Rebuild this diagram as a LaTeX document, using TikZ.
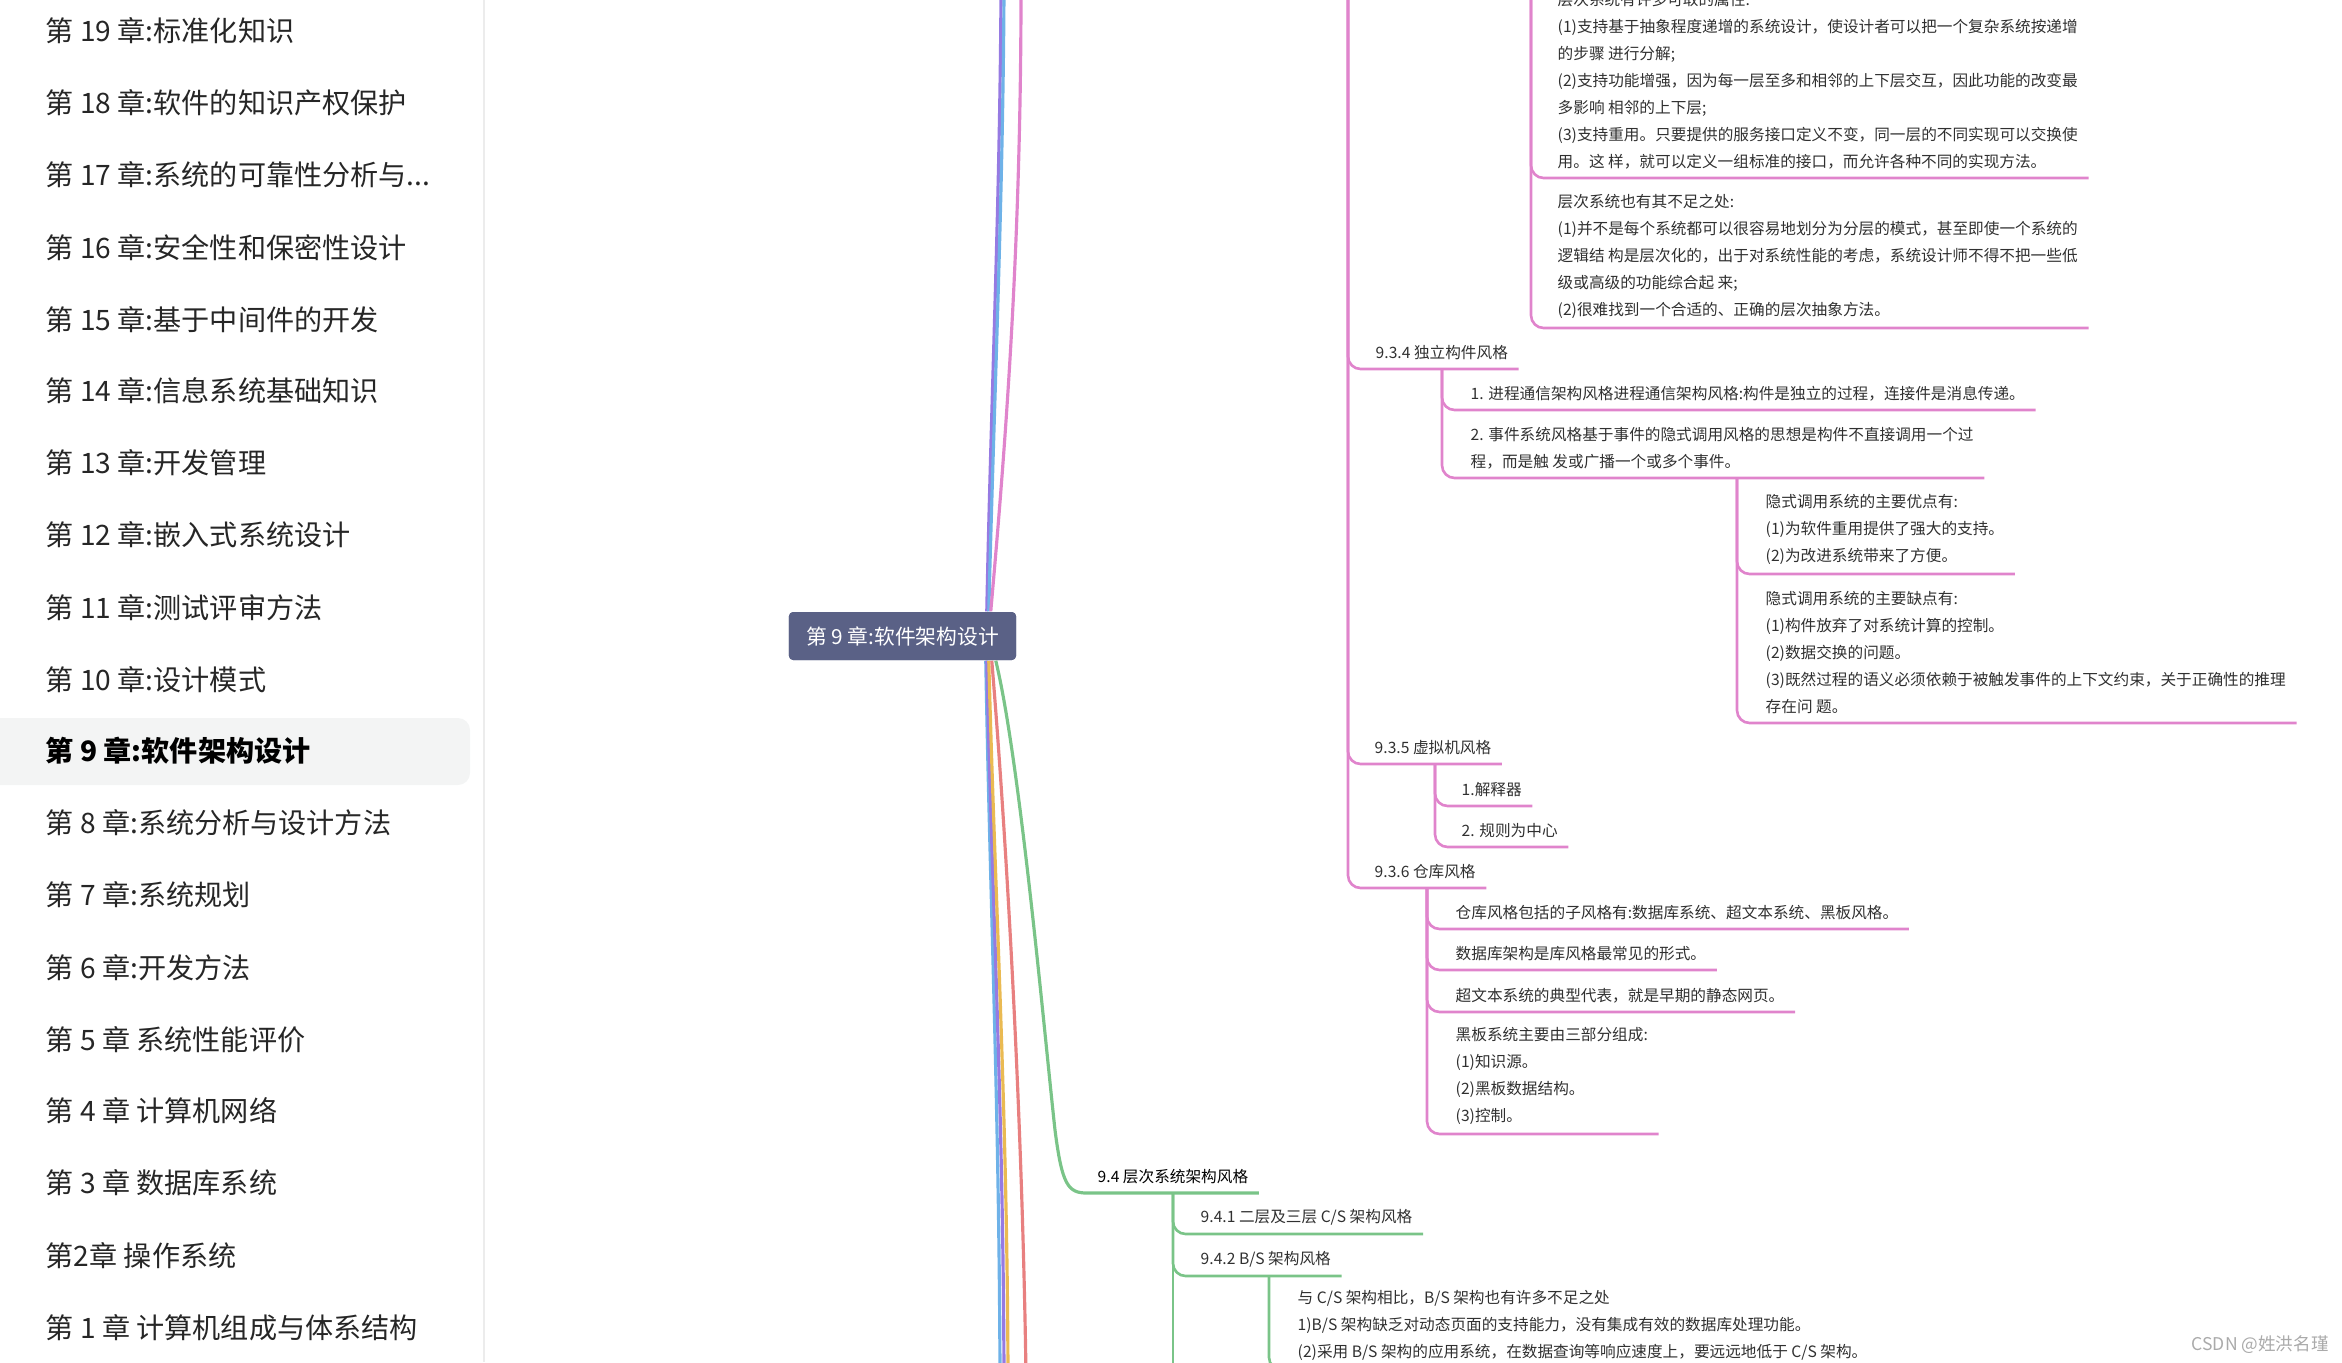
\documentclass[tikz,border=0pt]{standalone}
\usepackage{fontspec}
\setmainfont{Noto Sans CJK SC}
\usepackage{xcolor}
\usepackage{tikz}
\usetikzlibrary{positioning, calc}

\definecolor{mmpink}{RGB}{224,132,204}
\definecolor{mmblue}{RGB}{110,178,232}
\definecolor{mmpurple}{RGB}{150,122,226}
\definecolor{mmgreen}{RGB}{122,196,136}
\definecolor{mmred}{RGB}{232,128,128}
\definecolor{mmyellow}{RGB}{234,186,82}
\definecolor{rootfill}{RGB}{90,97,134}
\definecolor{sidehl}{RGB}{243,244,244}
\definecolor{sideline}{RGB}{236,236,236}
\definecolor{sidetext}{RGB}{38,38,38}
\definecolor{mmtext}{RGB}{48,48,48}
\definecolor{markgray}{RGB}{170,170,170}

\newcommand{\sidefont}{\fontsize{8pt}{10pt}\selectfont}
\newcommand{\rootfont}{\fontsize{5.9pt}{8pt}\selectfont}
\newcommand{\mmfont}{\fontsize{4.45pt}{7.68pt}\selectfont}

\begin{document}
\begin{tikzpicture}[
    x=0.01cm, y=-0.01cm,
    chapter/.style={anchor=west, inner sep=0pt, font=\sidefont, text=sidetext},
    root/.style={rectangle, fill=rootfill, rounded corners=1.2pt, minimum width=2.27cm, minimum height=0.48cm, inner sep=0pt, font=\rootfont, text=white},
    topic/.style={anchor=south west, inner xsep=2.85pt, inner ysep=2.4pt, align=left, font=\mmfont, text=mmtext},
    branch/.style={line width=0.9pt},
    twig/.style={line width=0.75pt, rounded corners=3.6pt}
]
\useasboundingbox (0,0) rectangle (2342,1362);
\clip (0,0) rectangle (2342,1362);

% chapter list
\fill[sidehl, rounded corners=3.4pt] (-20,718) rectangle (470,785);
\draw[sideline, line width=0.6pt] (484,0) -- (484,1362);
\node[chapter] (ch19) at (45,31) {第 19 章:标准化知识};
\node[chapter] (ch18) at (45,103) {第 18 章:软件的知识产权保护};
\node[chapter] (ch17) at (45,175) {第 17 章:系统的可靠性分析与...};
\node[chapter] (ch16) at (45,248) {第 16 章:安全性和保密性设计};
\node[chapter] (ch15) at (45,320) {第 15 章:基于中间件的开发};
\node[chapter] (ch14) at (45,391) {第 14 章:信息系统基础知识};
\node[chapter] (ch13) at (45,463) {第 13 章:开发管理};
\node[chapter] (ch12) at (45,535) {第 12 章:嵌入式系统设计};
\node[chapter] (ch11) at (45,608) {第 11 章:测试评审方法};
\node[chapter] (ch10) at (45,680) {第 10 章:设计模式};
\node[chapter, font=\sidefont\bfseries, text=black] (ch9) at (45,751) {第 9 章:软件架构设计};
\node[chapter] (ch8) at (45,823) {第 8 章:系统分析与设计方法};
\node[chapter] (ch7) at (45,895) {第 7 章:系统规划};
\node[chapter] (ch6) at (45,968) {第 6 章:开发方法};
\node[chapter] (ch5) at (45,1040) {第 5 章 系统性能评价};
\node[chapter] (ch4) at (45,1111) {第 4 章 计算机网络};
\node[chapter] (ch3) at (45,1183) {第 3 章 数据库系统};
\node[chapter] (ch2) at (45,1256) {第2章 操作系统};
\node[chapter] (ch1) at (45,1328) {第 1 章 计算机组成与体系结构};

% mind map topics
\node[topic] (blk1) at (1547,178) {层次系统有许多可取的属性:\\(1)支持基于抽象程度递增的系统设计，使设计者可以把一个复杂系统按递增\\的步骤 进行分解;\\(2)支持功能增强，因为每一层至多和相邻的上下层交互，因此功能的改变最\\多影响 相邻的上下层;\\(3)支持重用。只要提供的服务接口定义不变，同一层的不同实现可以交换使\\用。这 样，就可以定义一组标准的接口，而允许各种不同的实现方法。};
\node[topic] (blk2) at (1547,328) {层次系统也有其不足之处:\\(1)并不是每个系统都可以很容易地划分为分层的模式，甚至即使一个系统的\\逻辑结 构是层次化的，出于对系统性能的考虑，系统设计师不得不把一些低\\级或高级的功能综合起 来;\\(2)很难找到一个合适的、正确的层次抽象方法。};
\node[topic] (s934) at (1365,369) {9.3.4 独立构件风格};
\node[topic] (ev1) at (1460,410) {1. 进程通信架构风格进程通信架构风格:构件是独立的过程，连接件是消息传递。};
\node[topic] (ev2) at (1460,478) {2. 事件系统风格基于事件的隐式调用风格的思想是构件不直接调用一个过\\程，而是触 发或广播一个或多个事件。};
\node[topic] (adv) at (1755,574) {隐式调用系统的主要优点有:\\(1)为软件重用提供了强大的支持。\\(2)为改进系统带来了方便。};
\node[topic] (dis) at (1755,723) {隐式调用系统的主要缺点有:\\(1)构件放弃了对系统计算的控制。\\(2)数据交换的问题。\\(3)既然过程的语义必须依赖于被触发事件的上下文约束，关于正确性的推理\\存在问 题。};
\node[topic] (s935) at (1364,764) {9.3.5 虚拟机风格};
\node[topic] (vm1) at (1451,806) {1.解释器};
\node[topic] (vm2) at (1451,847) {2. 规则为中心};
\node[topic] (s936) at (1364,888) {9.3.6 仓库风格};
\node[topic] (rp1) at (1445,929) {仓库风格包括的子风格有:数据库系统、超文本系统、黑板风格。};
\node[topic] (rp2) at (1445,970) {数据库架构是库风格最常见的形式。};
\node[topic] (rp3) at (1445,1012) {超文本系统的典型代表，就是早期的静态网页。};
\node[topic] (rp4) at (1445,1134) {黑板系统主要由三部分组成:\\(1)知识源。\\(2)黑板数据结构。\\(3)控制。};
\node[topic, text=black] (s94) at (1087,1193) {9.4 层次系统架构风格};
\node[topic] (s941) at (1190,1234) {9.4.1 二层及三层 C/S 架构风格};
\node[topic] (s942) at (1190,1276) {9.4.2 B/S 架构风格};
\node[topic] (bsnote) at (1287,1370) {与 C/S 架构相比，B/S 架构也有许多不足之处\\1)B/S 架构缺乏对动态页面的支持能力，没有集成有效的数据库处理功能。\\(2)采用 B/S 架构的应用系统，在数据查询等响应速度上，要远远地低于 C/S 架构。};

% loose ends of branches that leave the view
\coordinate (toA) at (1001,-10);
\coordinate (toB) at (1004,-10);
\coordinate (toC) at (1021,-10);
\coordinate (toD) at (1000,1375);
\coordinate (toE) at (1004,1375);
\coordinate (toF) at (1008,1375);
\coordinate (toG) at (1026,1375);
\coordinate (t93) at (1348,-10);
\coordinate (t933) at (1531,-10);
\coordinate (t94) at (1173,1375);
\coordinate (g94) at (1055,1130);

\node[root] (chap) at (902.5,636) {第 9 章:软件架构设计};

% main branches
\draw[branch, mmpurple] ($(chap.north east)+(-30,0)$) .. controls (991,400) and (1000,200) .. (toA);
\draw[branch, mmblue] ($(chap.north east)+(-28,0)$) .. controls (994,400) and (1003,200) .. (toB);
\draw[branch, mmpink] ($(chap.north east)+(-26,0)$) .. controls (1005,450) and (1021,250) .. (toC);
\draw[branch, mmblue] ($(chap.south east)+(-31,0)$) .. controls (990,900) and (999,1100) .. (toD);
\draw[branch, mmpurple] ($(chap.south east)+(-30,0)$) .. controls (992,900) and (1003,1100) .. (toE);
\draw[branch, mmyellow] ($(chap.south east)+(-28,0)$) .. controls (995,900) and (1007,1100) .. (toF);
\draw[branch, mmred] ($(chap.south east)+(-25,0)$) .. controls (1005,820) and (1022,1100) .. (toG);
\draw[branch, mmgreen] ($(chap.south east)+(-21,0)$) .. controls (1020,760) and (1045,1040) .. (g94) .. controls (1062,1185) and (1068,1193) .. (s94.south west) -- (s94.south east);
\node[root] at (chap) {第 9 章:软件架构设计};

% pink sub-branches
\draw[twig, mmpink] (t933) |- (blk1.south east);
\draw[twig, mmpink] (t933) |- (blk2.south east);
\draw[twig, mmpink] (t93) |- (s934.south east);
\draw[twig, mmpink] (t93) |- (s935.south east);
\draw[twig, mmpink] (t93) |- (s936.south east);
\draw[twig, mmpink] (s934.south west) ++(77,0) |- (ev1.south east);
\draw[twig, mmpink] (s934.south west) ++(77,0) |- (ev2.south east);
\draw[twig, mmpink] (ev2.south west) ++(277,0) |- (adv.south east);
\draw[twig, mmpink] (ev2.south west) ++(277,0) |- (dis.south east);
\draw[twig, mmpink] (s935.south west) ++(71,0) |- (vm1.south east);
\draw[twig, mmpink] (s935.south west) ++(71,0) |- (vm2.south east);
\draw[twig, mmpink] (s936.south west) ++(63,0) |- (rp1.south east);
\draw[twig, mmpink] (s936.south west) ++(63,0) |- (rp2.south east);
\draw[twig, mmpink] (s936.south west) ++(63,0) |- (rp3.south east);
\draw[twig, mmpink] (s936.south west) ++(63,0) |- (rp4.south east);

% green sub-branches
\draw[twig, mmgreen] (s94.south west) ++(86,0) |- (s941.south east);
\draw[twig, mmgreen] (s94.south west) ++(86,0) |- (s942.south east);
\draw[twig, mmgreen] (s94.south west) ++(86,0) -- (t94);
\draw[twig, mmgreen] (s942.south west) ++(79,0) |- (bsnote.south east);

\node[anchor=west, inner sep=0pt, font=\fontsize{5pt}{6pt}\selectfont, text=markgray] (mark) at (2191,1345) {CSDN @姓洪名瑾};
\end{tikzpicture}
\end{document}
